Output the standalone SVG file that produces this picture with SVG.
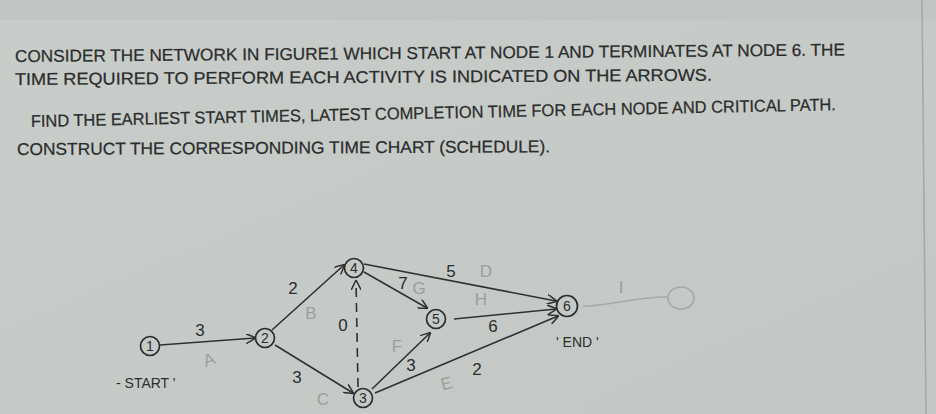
<svg xmlns="http://www.w3.org/2000/svg" width="936" height="414" viewBox="0 0 936 414">
<defs>
<style>
.t{font-family:"Liberation Sans",Arial,sans-serif;fill:#2b2d2d;font-size:17px;stroke:#2b2d2d;stroke-width:0.25}
.n{font-family:"Liberation Sans",Arial,sans-serif;fill:#2b2d2d;font-size:14px;text-anchor:middle}
.g{font-family:"Liberation Sans",Arial,sans-serif;fill:#9a9e9c;font-size:17px;text-anchor:middle}
.l{font-family:"Liberation Sans",Arial,sans-serif;fill:#2b2d2d;font-size:17px;text-anchor:middle}
.s{font-family:"Liberation Sans",Arial,sans-serif;fill:#2b2d2d;font-size:14px}
.c{fill:none;stroke:#2b2d2d;stroke-width:1.7}
.e{fill:none;stroke:#2f3131;stroke-width:1.6}
</style>
<marker id="ah" viewBox="0 0 10 10" refX="9" refY="5" markerWidth="10" markerHeight="10" orient="auto" markerUnits="userSpaceOnUse">
<path d="M0,0 L10,5 L0,10" fill="none" stroke="#2f3131" stroke-width="1.5"/>
</marker>
<linearGradient id="bg" x1="0" y1="0" x2="1" y2="1">
<stop offset="0" stop-color="#c9cdca"/>
<stop offset="1" stop-color="#c4c8c5"/>
</linearGradient>
</defs>
<rect width="936" height="414" fill="url(#bg)"/>
<rect width="936" height="20" fill="#c2c6c3"/>
<line x1="922" y1="0" x2="926" y2="414" stroke="#a3a7a5" stroke-width="1.5"/>

<text class="t" x="15" y="62" textLength="830" lengthAdjust="spacingAndGlyphs" transform="rotate(-0.45 15 62)">CONSIDER THE NETWORK IN FIGURE1 WHICH START AT NODE 1 AND TERMINATES AT NODE 6. THE</text>
<text class="t" x="15" y="85" textLength="697" lengthAdjust="spacingAndGlyphs" transform="rotate(-0.35 15 85)">TIME REQUIRED TO PERFORM EACH ACTIVITY IS INDICATED ON THE ARROWS.</text>
<text class="t" x="31" y="127" textLength="805" lengthAdjust="spacingAndGlyphs" transform="rotate(-1.2 31 127)">FIND THE EARLIEST START TIMES, LATEST COMPLETION TIME FOR EACH NODE AND CRITICAL PATH.</text>
<text class="t" x="17" y="155" textLength="533" lengthAdjust="spacingAndGlyphs" transform="rotate(-0.3 17 155)">CONSTRUCT THE CORRESPONDING TIME CHART (SCHEDULE).</text>

<g id="connectors">
<line class="e" x1="160" y1="345" x2="255" y2="338" marker-end="url(#ah)"/>
<line class="e" x1="272" y1="330" x2="344" y2="265" marker-end="url(#ah)"/>
<line class="e" x1="275" y1="345" x2="353" y2="393" marker-end="url(#ah)"/>
<line class="e" x1="358" y1="387" x2="356" y2="281" stroke-dasharray="9,6" marker-end="url(#ah)"/>
<line class="e" x1="364" y1="272" x2="427" y2="308" marker-end="url(#ah)"/>
<line class="e" x1="364" y1="264" x2="556" y2="301" marker-end="url(#ah)"/>
<line class="e" x1="454" y1="319" x2="556" y2="309" marker-end="url(#ah)"/>
<line class="e" x1="372" y1="389" x2="430" y2="333" marker-end="url(#ah)"/>
<line class="e" x1="375" y1="393" x2="558" y2="316" marker-end="url(#ah)"/>
<path d="M583,306 C610,306 640,296 667,297" fill="none" stroke="#a4a8a6" stroke-width="1.6"/>

<text class="l" x="200" y="336">3</text>
<text class="l" x="293" y="294">2</text>
<text class="l" x="297" y="383">3</text>
<text class="l" x="343" y="331">0</text>
<text class="l" x="403" y="289">7</text>
<text class="l" x="451" y="277">5</text>
<text class="l" x="493" y="332">6</text>
<text class="l" x="411" y="371">3</text>
<text class="l" x="477" y="375">2</text>

<text class="g" x="211" y="365" transform="rotate(-20 211 365)">A</text>
<text class="g" x="311" y="319">B</text>
<text class="g" x="323" y="405">C</text>
<text class="g" x="486" y="277">D</text>
<text class="g" x="448" y="389" transform="rotate(-15 448 389)">E</text>
<text class="g" x="397" y="352">F</text>
<text class="g" x="419" y="294">G</text>
<text class="g" x="481" y="305">H</text>
<text class="g" x="621" y="293">I</text>
</g>

<g id="node1"><circle class="c" cx="150" cy="346" r="9.5"/><text class="n" x="150" y="351">1</text></g>
<g id="node2"><circle class="c" cx="265" cy="338" r="9.5"/><text class="n" x="265" y="343">2</text></g>
<g id="node3"><circle class="c" cx="363" cy="398" r="9.5"/><text class="n" x="363" y="403">3</text></g>
<g id="node4"><circle class="c" cx="354" cy="268" r="9.5"/><text class="n" x="354" y="273">4</text></g>
<g id="node5"><circle class="c" cx="436" cy="319" r="9.5"/><text class="n" x="436" y="324">5</text></g>
<g id="node6"><circle class="c" cx="567" cy="306" r="10.5"/><text class="n" x="567" y="311">6</text></g>
<g id="node7"><ellipse cx="681" cy="298" rx="13" ry="11" fill="none" stroke="#a4a8a6" stroke-width="1.6"/></g>

<text class="s" x="116" y="388">- START '</text>
<text class="s" x="556" y="347">' END '</text>
</svg>
